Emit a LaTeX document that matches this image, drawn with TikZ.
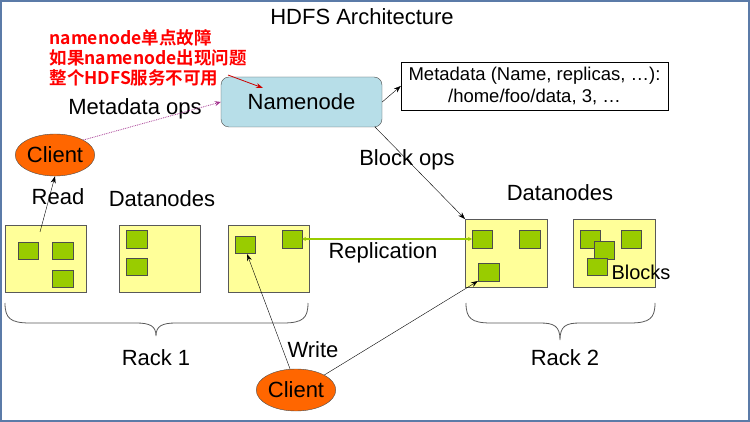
\documentclass[tikz,border=0pt]{standalone}
\usepackage{fontspec}
\setmainfont{Liberation Sans}
\newfontfamily\cjk{Noto Sans CJK SC}[BoldFont={Noto Sans CJK SC Bold}]
\usetikzlibrary{arrows.meta,shapes.geometric}
\definecolor{dn}{HTML}{FFFF99}
\definecolor{blk}{HTML}{99CC00}
\definecolor{nn}{HTML}{B7DEE8}
\definecolor{cl}{HTML}{FF6600}
\definecolor{frame}{HTML}{5B7BA8}
\begin{document}
\begin{tikzpicture}[x=1pt,y=-1pt,
 dnode/.style={draw=gray!70!black,fill=dn,thin},
 blkst/.style={draw=gray!60!black,fill=blk,thin},
 client/.style={ellipse,draw=gray!60!black,fill=cl,minimum width=76pt,minimum height=42pt,font=\fontsize{22}{22}\selectfont,inner sep=0pt},
 lbl/.style={font=\fontsize{22}{26}\selectfont},
 arr/.style={-{Stealth[length=7pt,width=5pt]},thin},
 rack/.style={gray!70!black,thick}]
\useasboundingbox (0,0) rectangle (750,422);
\draw[draw=frame,line width=1.5pt] (1,1) rectangle (749,421);
\node[lbl] (title) at (362,17) {HDFS Architecture};
\node[draw=gray!60!black,fill=nn,rounded corners=8pt,minimum width=161pt,minimum height=50pt,lbl] (nn) at (301.5,102) {Namenode};
\node[draw=black,thin,minimum width=267pt,minimum height=48pt,align=center,font=\fontsize{18.5}{22}\selectfont,inner sep=2pt] (meta) at (534.5,86) {Metadata (Name, replicas, \dots):\\/home/foo/data, 3, \dots};
\node[anchor=west,align=left,text=red,font=\cjk\bfseries\fontsize{17.5}{20}\selectfont] (note) at (46,58) {namenode单点故障\\如果namenode出现问题\\整个HDFS服务不可用};
\node[lbl] (mops) at (135,109) {Metadata ops};
\node[client] (c1) at (55,155) {Client};
\node[client] (c2) at (296,390) {Client};
\node[lbl] (read) at (58,197) {Read};
\node[lbl] (dn1) at (162,199) {Datanodes};
\node[lbl] (dn2) at (560,193) {Datanodes};
\node[lbl] (bops) at (407,160) {Block ops};
\node[lbl] (repl) at (383,253) {Replication};
\node[lbl] (write) at (313,350) {Write};
\node[lbl] (r1) at (156,358) {Rack 1};
\node[lbl] (r2) at (565,358) {Rack 2};
% datanodes
\draw[dnode] (5,225) rectangle (86,292);
\draw[dnode] (119,225) rectangle (200,292);
\draw[dnode] (228,225) rectangle (309,292);
\draw[dnode] (465,219) rectangle (547,287);
\draw[dnode] (573,219) rectangle (655,287);
\coordinate (b1) at (40,232);
\coordinate (b4) at (465,219);
\draw[blkst] (18,242) rectangle (38,259);
\draw[blkst] (52,242) rectangle (73,259);
\draw[blkst] (52,270) rectangle (73,287);
\draw[blkst] (126,230) rectangle (147,248);
\draw[blkst] (126,258) rectangle (147,275);
\draw[blkst] (235,236) rectangle (255,253);
\draw[blkst] (282,230) rectangle (302,248);
\draw[blkst] (472,230) rectangle (492,248);
\draw[blkst] (519,230) rectangle (540,248);
\draw[blkst] (478,263) rectangle (499,281);
\draw[blkst] (580,230) rectangle (600,248);
\draw[blkst] (621,230) rectangle (641,248);
\draw[blkst] (594,241) rectangle (614,259);
\draw[blkst] (587,258) rectangle (607,275);
\node[font=\fontsize{20}{22}\selectfont] (blocks) at (641,272) {Blocks};
\coordinate (w3) at (247,254);
\coordinate (w4) at (478,281);
\coordinate (rp1) at (302,239);
\coordinate (rp2) at (472,239);
\coordinate (nnbr) at (375,127);
\coordinate (ns) at (228,75);
% braces
\draw[rack] (5,303) .. controls (5,318) and (10,323) .. (30,323) -- (136,323) .. controls (150,323) and (156,326) .. (156,336)
  .. controls (156,326) and (162,323) .. (176,323) -- (283,323) .. controls (303,323) and (308,318) .. (308,303);
\draw[rack] (466,303) .. controls (466,318) and (471,323) .. (491,323) -- (540,323) .. controls (554,323) and (560,326) .. (560,340)
  .. controls (560,326) and (566,323) .. (580,323) -- (630,323) .. controls (650,323) and (655,318) .. (655,303);
% connectors
\draw[arr] (nn.east) -- (meta.west);
\draw[arr] (nnbr) -- (b4);
\draw[-{Stealth[length=6pt,width=5pt]},densely dotted,violet!70!pink,thick] (c1.north east) -- (nn.west);
\draw[arr] (b1) -- (c1.south);
\draw[arr] (c2.north) ++(-6,0) -- (w3);
\draw[arr] (c2.north east) -- (w4);
\draw[{Stealth[length=4pt,width=4pt]}-{Stealth[length=4pt,width=4pt]},draw=blk,line width=1.5pt] (rp1) -- (rp2);
\draw[-{Stealth[length=7pt,width=5pt]},red!80!black,thick] (ns) -- (263,88);
\end{tikzpicture}
\end{document}
